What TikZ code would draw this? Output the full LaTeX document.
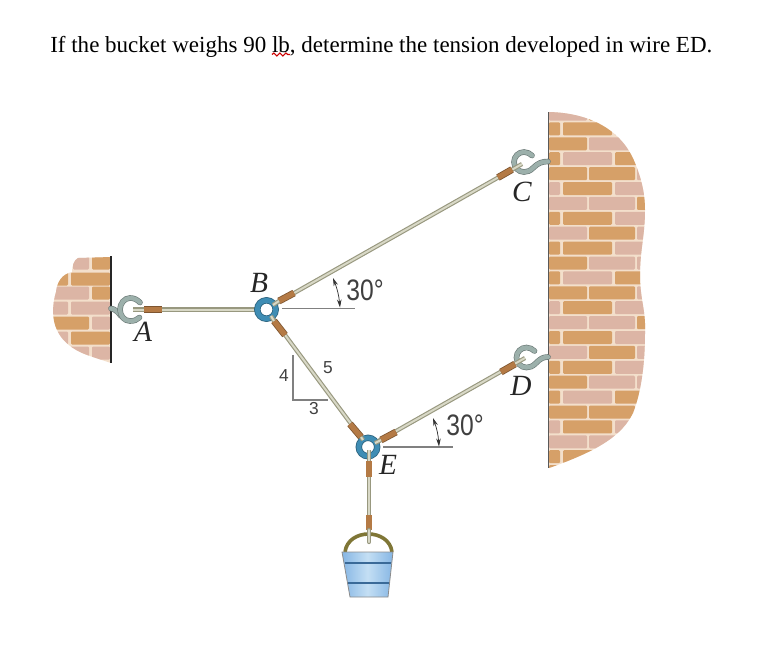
\documentclass[tikz,border=0pt]{standalone}
\usepackage{fontspec}
\usepackage{graphicx}
\setmainfont{Liberation Serif}
\newfontfamily\lblfont{Liberation Sans}
\usetikzlibrary{arrows.meta,decorations.pathmorphing}
\definecolor{bo}{HTML}{D6A068}
\definecolor{bp}{HTML}{DCB5A5}
\definecolor{mortar}{HTML}{F3DFCB}
\definecolor{sleevec}{HTML}{B47A45}
\definecolor{ropeout}{HTML}{98987F}
\definecolor{ropein}{HTML}{D8D8C6}
\definecolor{ringc}{HTML}{3F8DB4}
\definecolor{hookc}{HTML}{9CB0AB}
\definecolor{bucketc}{HTML}{86B6E4}
\definecolor{bucketl}{HTML}{C4DFF4}
\definecolor{bucketd}{HTML}{3A6A98}
\definecolor{handlec}{HTML}{7F7636}
\newcommand{\brk}[4]{\fill[#4,rounded corners=0.8pt] (#1,{114+14.9*#3-6.5}) rectangle (#2,{114+14.9*#3+6.5});}
\newcommand{\rowA}[4]{\brk{549}{560}{#1}{#2}\brk{563}{612}{#1}{#3}\brk{615}{660}{#1}{#4}}
\newcommand{\rowB}[4]{\brk{549}{587}{#1}{#2}\brk{589}{635}{#1}{#3}\brk{637}{660}{#1}{#4}}
\newcommand{\rope}[2]{\draw[ropeout,line width=3.2pt] (#1) -- (#2);\draw[ropein,line width=1.5pt] (#1) -- (#2);}
\newcommand{\sleeve}[2]{\draw[sleevec!70!black,line width=5.2pt] (#1) -- (#2);\draw[sleevec,line width=4pt] (#1) -- (#2);}
\newcommand{\ringat}[1]{\draw[ringc!70!black,line width=4.8pt] (#1) circle[radius=9.2];\draw[ringc,line width=3.6pt] (#1) circle[radius=9.2];}
\newcommand{\hookdraw}[1]{\draw[hookline] #1;\draw[hookin] #1;}
\tikzset{
  hookline/.style={line width=4.2pt,hookc!70!black,line cap=round},
  hookin/.style={line width=3.2pt,hookc,line cap=round},
  point/.style={font=\fontsize{22}{22}\selectfont\itshape,text=black!85},
  small/.style={font=\lblfont\fontsize{13}{13}\selectfont,text=black!75},
  angle/.style={font=\lblfont\fontsize{18.5}{18.5}\selectfont,text=black!75},
  leader/.style={black!50,line width=0.9pt},
  dimarrow/.style={black!80,line width=0.55pt,{Stealth[length=6pt,width=3.4pt]}-{Stealth[length=6pt,width=3.4pt]}}
}
\begin{document}
\begin{tikzpicture}[x=0.75pt,y=-0.75pt]
\useasboundingbox (0,0) rectangle (778,658);
\fill[white] (0,0) rectangle (778,658);
% title
\node[anchor=base west,inner sep=0,font=\fontsize{17.26}{18}\selectfont] (title) at (50,52) {If the bucket weighs 90 lb, determine the tension developed in wire ED.};
\coordinate (sqa) at (272,54.5);\coordinate (sqb) at (290,54.5);
\draw[red!80!black,line width=0.9pt,decorate,decoration={snake,segment length=4.5pt,amplitude=1.1pt}] (sqa) -- (sqb);
% right wall
\begin{scope}
\clip (549,112) .. controls (590,113) and (622,130) .. (635,163) .. controls (642,180) and (645,195) .. (645,210)
  .. controls (645,235) and (640,250) .. (640,275) .. controls (640,300) and (646,310) .. (645,333)
  .. controls (645,360) and (642,390) .. (633,413) .. controls (622,435) and (600,450) .. (549,468) -- cycle;
\fill[mortar] (540,105) rectangle (660,475);
\foreach \o in {0,8,16}{
  \rowB{\o}{bp}{bo}{bp}
  \pgfmathtruncatemacro{\ka}{\o+1}\rowA{\ka}{bo}{bo}{bp}
  \pgfmathtruncatemacro{\kb}{\o+2}\rowB{\kb}{bo}{bp}{bp}
  \pgfmathtruncatemacro{\kc}{\o+3}\rowA{\kc}{bo}{bp}{bo}
  \pgfmathtruncatemacro{\kd}{\o+4}\rowB{\kd}{bo}{bo}{bp}
  \pgfmathtruncatemacro{\ke}{\o+5}\rowA{\ke}{bp}{bo}{bp}
  \pgfmathtruncatemacro{\kf}{\o+6}\rowB{\kf}{bp}{bp}{bo}
  \pgfmathtruncatemacro{\kg}{\o+7}\rowA{\kg}{bo}{bo}{bp}
}
\rowB{24}{bo}{bo}{bo}
\end{scope}
\draw[black!65,line width=1.4pt] (548.5,112) -- (548.5,468);
% left wall
\begin{scope}
\clip (111,257) -- (78,258) .. controls (74,260) and (72,266) .. (72,272) .. controls (62,274) and (57,282) .. (56,292)
  .. controls (52,305) and (52,320) .. (57,330) .. controls (64,345) and (78,352) .. (90,356) -- (111,363) -- cycle;
\fill[mortar] (45,250) rectangle (112,370);
\foreach \xa/\xb/\yy/\cc in {73/89/263/bp,92/110/263/bo,
  56/68/279/bo,71/110/279/bo,
  52/89/293/bp,92/110/293/bo,
  52/68/308/bp,71/110/308/bp,
  52/89/323/bo,92/110/323/bp,
  55/68/338/bp,71/110/338/bo,
  70/89/353/bp,92/110/353/bp}{
  \fill[\cc,rounded corners=0.8pt] (\xa,\yy-6.5) rectangle (\xb,\yy+6.5);
}
\end{scope}
\draw[black!85,line width=1.3pt] (111,256) -- (111,363);
% points
\coordinate (A) at (130,309.5);
\coordinate (B) at (266.5,309.5);
\coordinate (C) at (524,162);
\coordinate (D) at (526.5,357.5);
\coordinate (E) at (368,447);
\coordinate (H) at (369,542);
% leaders and slope triangle
\coordinate (bl) at (282,308.5);\coordinate (br) at (355,308.5);
\coordinate (el) at (383,447);\coordinate (er) at (453,447);
\draw[leader] (bl) -- (br);
\draw[leader] (el) -- (er);
\coordinate (ta) at (293,355);\coordinate (tb) at (293,400);\coordinate (tc) at (328,400);
\draw[leader] (ta) -- (tb) -- (tc);
\coordinate (ba1) at (340,307.5);\coordinate (ba2) at (333,278);
\draw[dimarrow] (ba1) to[bend right=8] (ba2);
\coordinate (ea1) at (439,446.5);\coordinate (ea2) at (433,418);
\draw[dimarrow] (ea1) to[bend right=8] (ea2);
% hooks
\hookdraw{(111,308.5) .. controls (115,309) and (118,312) .. (121,316)}
\hookdraw{(140,302.5) .. controls (137,299.5) and (134,298) .. (130,298) .. controls (124.5,298) and (120,303.5) .. (120,309.5) .. controls (120,316) and (124.5,321) .. (130,321) .. controls (134,321) and (137,320) .. (139.5,317.5)}
\hookdraw{(548,161.5) .. controls (542,161.5) and (538,163) .. (533,168) .. controls (530,171) and (527,172) .. (524,172) .. controls (518.5,172) and (514,167.5) .. (514,162) .. controls (514,156.5) and (518.5,152) .. (524,152) .. controls (527,152) and (530,153.5) .. (532,155.5)}
\hookdraw{(548,357) .. controls (543,357) and (540.5,358.5) .. (535.5,363.5) .. controls (532.5,366.5) and (529.5,367.5) .. (526.5,367.5) .. controls (521,367.5) and (516.5,363) .. (516.5,357.5) .. controls (516.5,352) and (521,347.5) .. (526.5,347.5) .. controls (529.5,347.5) and (532.5,349) .. (534.5,351)}
% ropes
\coordinate (Ax) at (133,309.5);\coordinate (Bl) at (259,309.5);
\coordinate (Bu) at (273,305);\coordinate (Cx) at (522,164);
\coordinate (Bd) at (271,316);\coordinate (Eu) at (363,440);
\coordinate (Er) at (375,443);\coordinate (Dx) at (525,358);
\coordinate (Ed) at (369,450);
\rope{Ax}{Bl}\rope{Bu}{Cx}\rope{Bd}{Eu}\rope{Er}{Dx}\rope{Ed}{H}
% sleeves
\coordinate (s1) at (144,309.5);\coordinate (s2) at (162,309.5);\sleeve{s1}{s2}
\coordinate (s3) at (279,301);\coordinate (s4) at (294,293);\sleeve{s3}{s4}
\coordinate (s5) at (274,321);\coordinate (s6) at (285,335);\sleeve{s5}{s6}
\coordinate (s7) at (498,177.5);\coordinate (s8) at (512,169.5);\sleeve{s7}{s8}
\coordinate (s9) at (350,424);\coordinate (s10) at (361,437);\sleeve{s9}{s10}
\coordinate (s11) at (381,440);\coordinate (s12) at (396,432);\sleeve{s11}{s12}
\coordinate (s13) at (501,372);\coordinate (s14) at (515,364);\sleeve{s13}{s14}
\coordinate (s15) at (369,461);\coordinate (s16) at (369,477);\sleeve{s15}{s16}
\coordinate (s17) at (369,515);\coordinate (s18) at (369,530);\sleeve{s17}{s18}
% rings
\ringat{B}\ringat{E}
\rope{Bd}{s5}\rope{Bu}{s3}\rope{Er}{s11}\rope{Eu}{s10}\rope{Ed}{s15}
% bucket
\coordinate (ha) at (345,552);\coordinate (hb) at (392,552);
\draw[handlec,line width=2.7pt] (ha) .. controls (348,528) and (389,528) .. (hb);
\draw[ropeout,line width=3.2pt,line cap=round] (s18) -- (H);
\draw[ropein,line width=1.6pt,line cap=round] (s18) -- (H);
\shade[left color=bucketc,right color=bucketc,middle color=bucketl,draw=black!45,line width=0.6pt]
  (342,552) -- (393,552) -- (388,597) -- (350,597) -- cycle;
\coordinate (b1l) at (345,563);\coordinate (b1r) at (391,563);
\coordinate (b2l) at (348,583);\coordinate (b2r) at (389,583);
\draw[bucketd,line width=1.6pt] (b1l) -- (b1r);
\draw[bucketd,line width=1.6pt] (b2l) -- (b2r);
% labels
\node[point] (lA) at (143,332) {A};
\node[point] (lB) at (259,283) {B};
\node[point] (lC) at (522,192) {C};
\node[point] (lD) at (521,386) {D};
\node[point] (lE) at (388,465) {E};
\node[angle] (a1) at (365,290) {\scalebox{1}[1.2]{30°}};
\node[angle] (a2) at (465,425) {\scalebox{1}[1.2]{30°}};
\node[small] (n4) at (284,376) {4};
\node[small] (n3) at (314,409) {3};
\node[small] (n5) at (328,368) {5};
\end{tikzpicture}
\end{document}
